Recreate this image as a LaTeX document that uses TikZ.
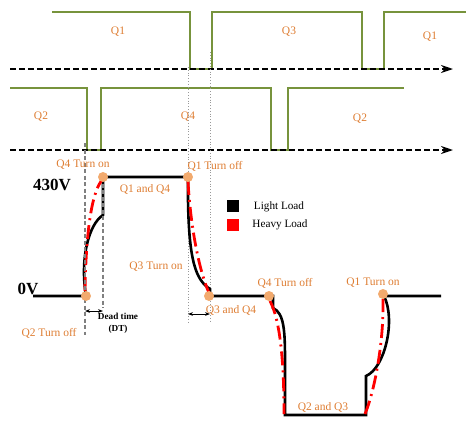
\documentclass[tikz,border=0pt]{standalone}
\usepackage{fontspec}
\setmainfont{Liberation Serif}
\usetikzlibrary{arrows.meta}
\definecolor{gatecol}{RGB}{119,147,60}
\definecolor{labcol}{RGB}{222,125,50}
\definecolor{dotcol}{RGB}{242,170,110}
\tikzset{
  gate/.style={gatecol,line width=2.6pt},
  axisline/.style={line width=1.8pt,dash pattern=on 6pt off 3pt,-{Stealth[length=12pt,width=8pt]}},
  light/.style={black,line width=2.6pt},
  heavy/.style={red,line width=2.8pt,dash pattern=on 14pt off 5pt on 2pt off 5pt},
  lab/.style={labcol,font=\fontsize{11.5}{12}\selectfont,inner sep=1pt},
  swdot/.style={circle,fill=dotcol,inner sep=0pt,minimum size=10pt},
  dtline/.style={gray,line width=2.2pt,dash pattern=on 4pt off 2.5pt},
  guide/.style={gray!80,line width=0.8pt,dotted},
  dtarrow/.style={black,line width=0.9pt,{Stealth[length=5pt]}-{Stealth[length=5pt]}},
}
\begin{document}
\begin{tikzpicture}[x=1pt,y=-1pt]
\useasboundingbox (0,0) rectangle (474,424);
% gate signals
\draw[gate] (52,12) -- (190,12) -- (190,69) -- (212,69) -- (212,12) -- (362,12) -- (362,69) -- (384,69) -- (384,12) -- (466,12);
\draw[gate] (10,88) -- (87,88) -- (87,150) -- (101,150) -- (101,88) -- (271,88) -- (271,150) -- (288,150) -- (288,88) -- (404,88);
\coordinate (ax1) at (10,69);  \coordinate (ax1e) at (453,69);
\coordinate (ax2) at (10,150); \coordinate (ax2e) at (453,150);
\draw[axisline] (ax1) -- (ax1e);
\draw[axisline] (ax2) -- (ax2e);
\node[lab] (g1) at (118,32) {Q1};
\node[lab] (g3) at (289,32) {Q3};
\node[lab] (g1b) at (430,37) {Q1};
\node[lab] (g2) at (41,117) {Q2};
\node[lab] (g4) at (188,117) {Q4};
\node[lab] (g2b) at (360,119) {Q2};
% switching points
\coordinate (q2off) at (86,296);
\coordinate (q4on) at (103,177);
\coordinate (q1off) at (188,177);
\coordinate (q3on) at (209,296);
\coordinate (q4off) at (269,296);
\coordinate (q1on) at (383,294);
% guide lines
\draw[guide] (188,67) -- (188,322);
\draw[guide] (210,52) -- (210,322);
% light load
\draw[light] (33,296) -- (q2off) .. controls (80,260) and (88,225) .. (103,215) -- (q4on) -- (q1off)
  -- (188,200) .. controls (189,262) and (196,280) .. (210,289) -- (210,296) -- (q4off) -- (273,296) -- (273,308)
  .. controls (284,313) and (285,330) .. (285,360) -- (285,415) -- (366,415) -- (366,376)
  .. controls (385,368) and (396,320) .. (384,296) -- (441,296);
% heavy load
\draw[heavy] (85,291) .. controls (86,230) and (92,190) .. (103,179);
\draw[heavy] (188,181) .. controls (190,220) and (198,270) .. (210,295);
\draw[heavy] (270,301) .. controls (280,320) and (284,360) .. (284,414);
\draw[heavy] (365,414) .. controls (375,390) and (384,340) .. (383,299);
% dead time
\draw[dtline] (85,143) -- (85,335);
\draw[dtline] (103,177) -- (103,308);
\coordinate (dta) at (85,311);  \coordinate (dtb) at (103,311);
\coordinate (dtc) at (188,314); \coordinate (dtd) at (210,314);
\draw[dtarrow] (dta) -- (dtb);
\draw[dtarrow] (dtc) -- (dtd);
\node[font=\bfseries\fontsize{9.2}{10}\selectfont] (dt1) at (118,316) {Dead time};
\node[font=\bfseries\fontsize{9.2}{10}\selectfont] (dt2) at (118,329) {(DT)};
% dots
\foreach \p in {q2off,q4on,q1off,q3on,q4off,q1on}
  \node[swdot] at (\p) {};
% labels
\node[lab] (l1) at (83,165) {Q4 Turn on};
\node[lab] (l2) at (145,189) {Q1 and Q4};
\node[lab] (l3) at (215,166) {Q1 Turn off};
\node[lab] (l4) at (156,267) {Q3 Turn on};
\node[lab] (l5) at (231,310) {Q3 and Q4};
\node[lab] (l6) at (285,283) {Q4 Turn off};
\node[lab] (l7) at (373,283) {Q1 Turn on};
\node[lab] (l8) at (323,407) {Q2 and Q3};
\node[lab] (l9) at (49,333) {Q2 Turn off};
\node[font=\bfseries\fontsize{17}{18}\selectfont] (vhi) at (52,185) {430V};
\node[font=\bfseries\fontsize{17}{18}\selectfont] (vlo) at (28,289) {0V};
% legend
\fill[black] (227,200) rectangle (239,212);
\fill[red] (227,219) rectangle (239,231);
\node[font=\fontsize{11.2}{12}\selectfont] (lg1) at (279,207) {Light Load};
\node[font=\fontsize{11.2}{12}\selectfont] (lg2) at (280,225) {Heavy Load};
\end{tikzpicture}
\end{document}
